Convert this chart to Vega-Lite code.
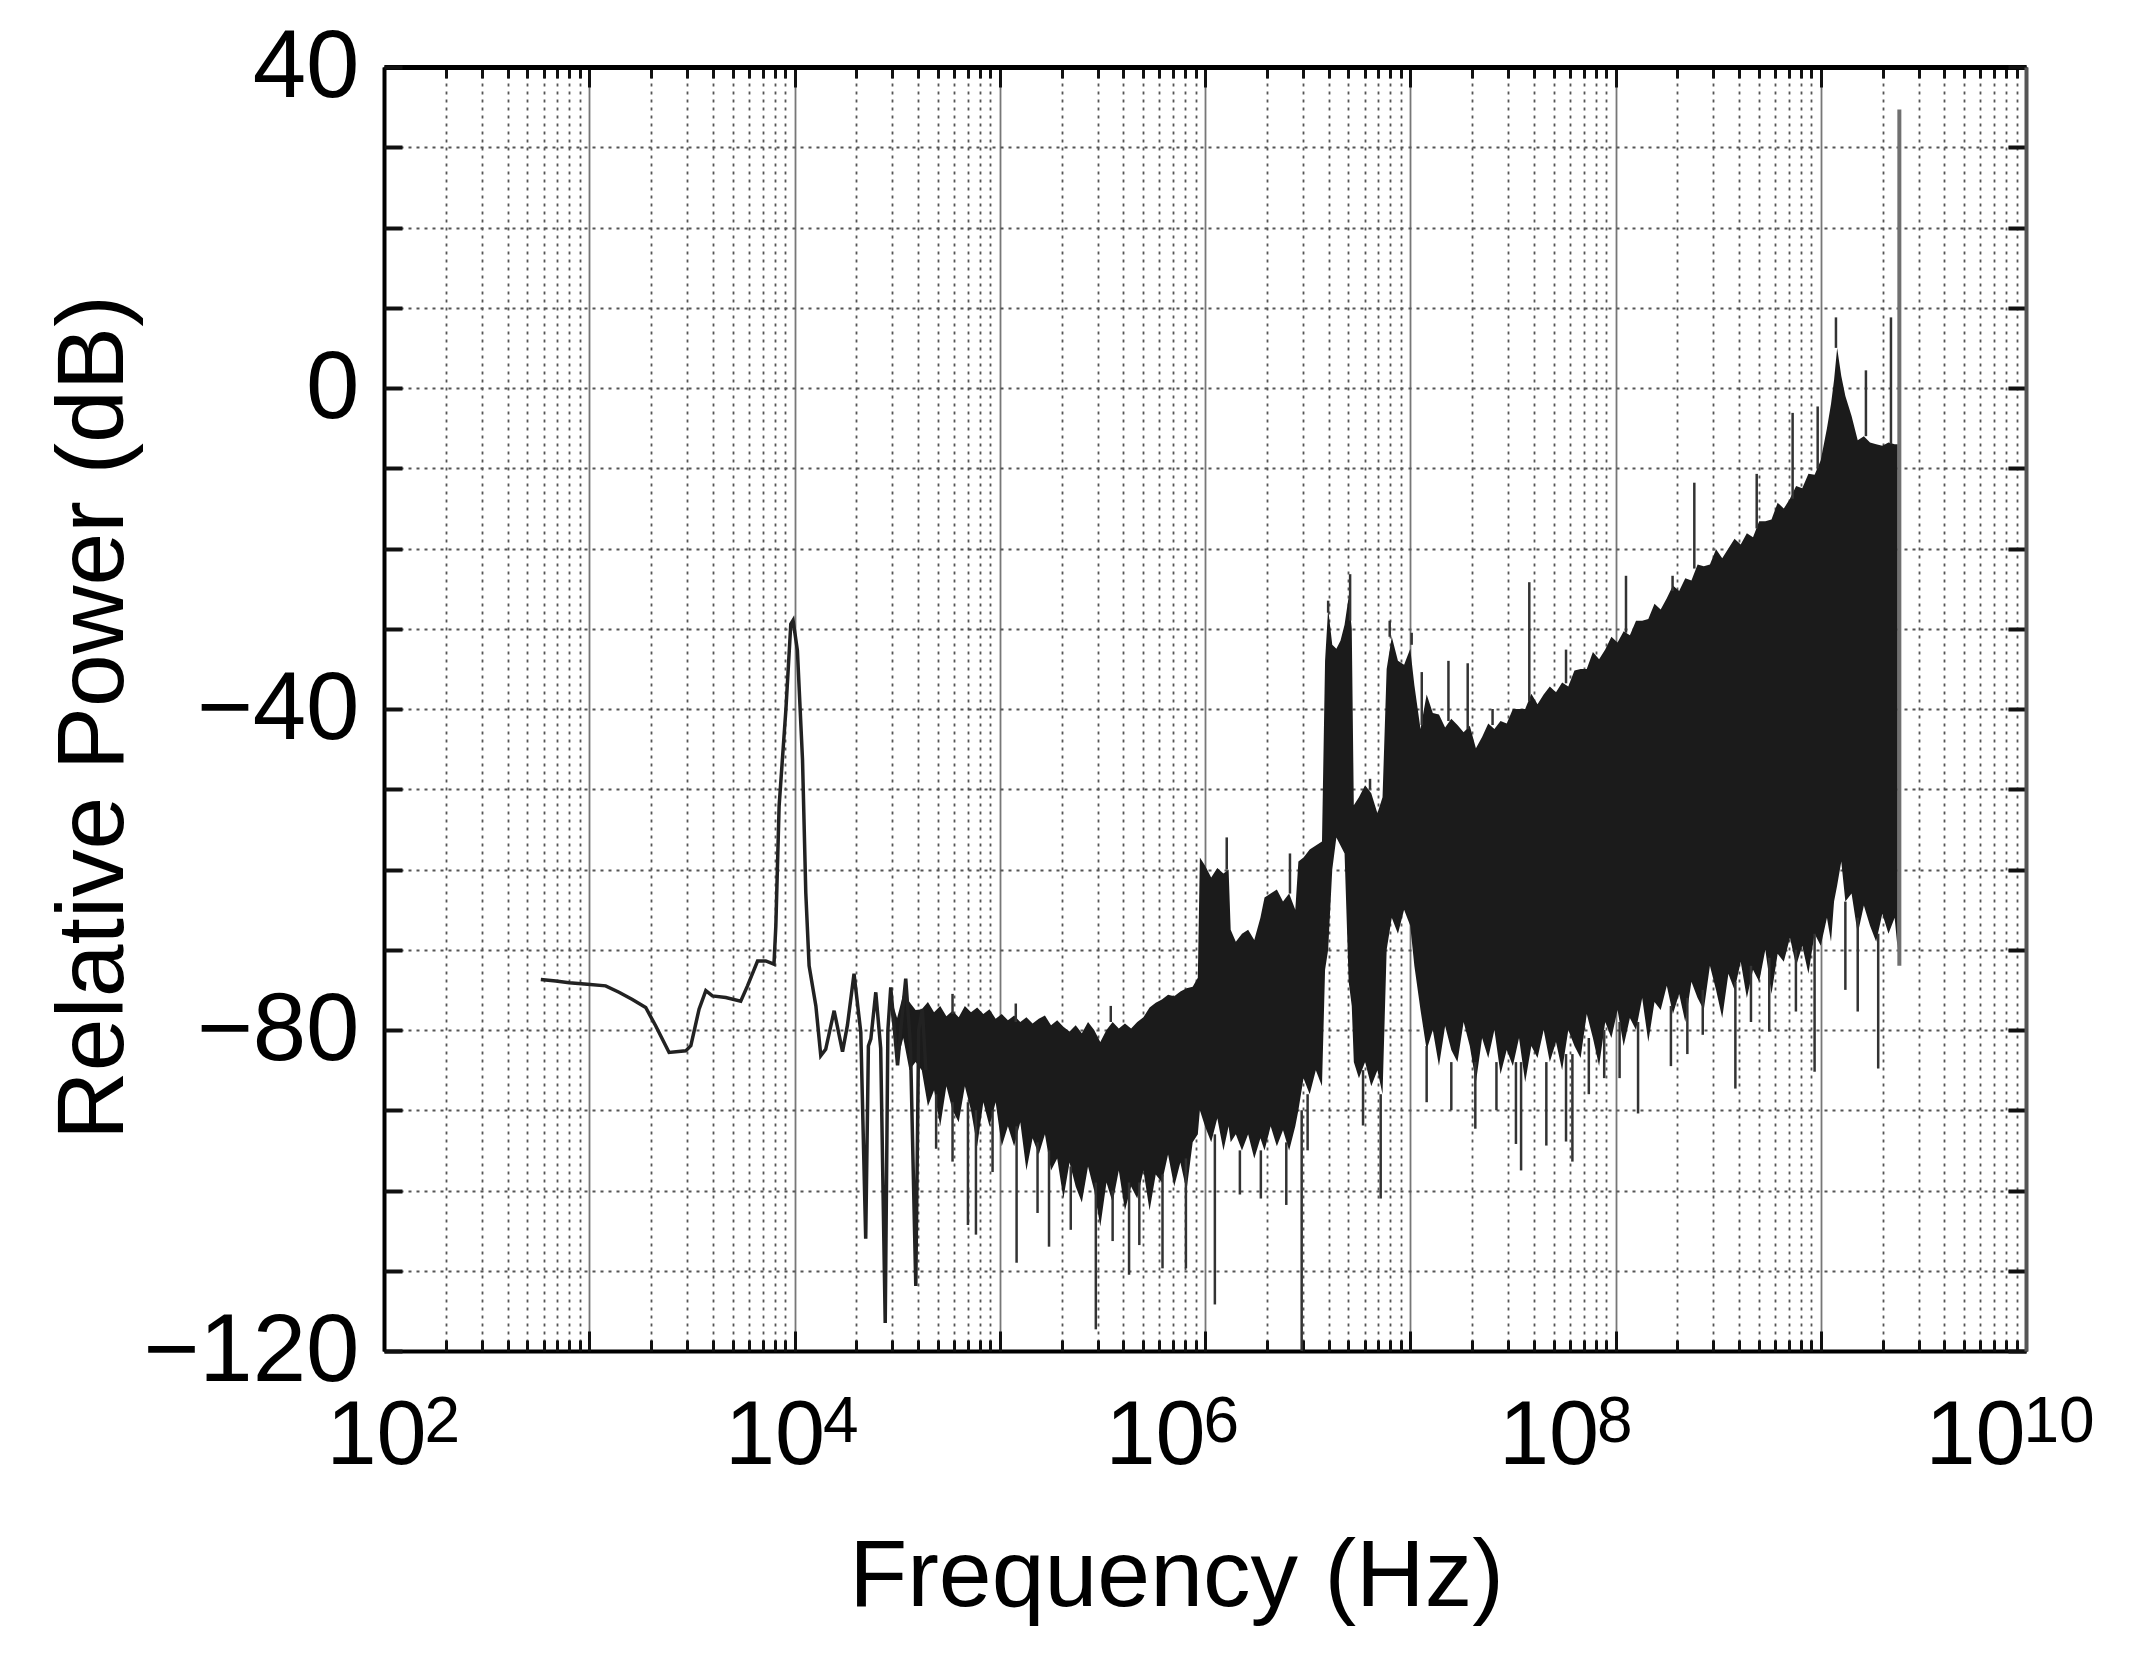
{
  "$schema": "https://vega.github.io/schema/vega-lite/v6.json",
  "width": 1642,
  "height": 1284,
  "autosize": {"type": "none"},
  "padding": {"left": 384, "top": 67, "right": 106, "bottom": 302},
  "background": "white",
  "config": {
    "view": {"stroke": null},
    "font": "Liberation Sans",
    "axis": {"labelFont": "Liberation Sans", "titleFont": "Liberation Sans", "labelColor": "#000", "titleColor": "#000", "titleFontWeight": "normal", "labelFlush": false, "labelOverlap": false, "labelLimit": 0}
  },
  "datasets": {
    "band": [
      {"f":2.951e4,"hi":-76.0,"lo":-78},{"f":3.162e4,"hi":-78.5,"lo":-84},{"f":3.388e4,"hi":-75.5,"lo":-81},{"f":3.631e4,"hi":-76.5,"lo":-85},{"f":3.890e4,"hi":-77.5,"lo":-84},
      {"f":4.169e4,"hi":-77.4,"lo":-85},{"f":4.467e4,"hi":-76.5,"lo":-89.5},{"f":4.786e4,"hi":-77.8,"lo":-87.5},{"f":5.129e4,"hi":-77.0,"lo":-92},{"f":5.495e4,"hi":-78.3,"lo":-87},{"f":5.888e4,"hi":-77.6,"lo":-90},{"f":6.310e4,"hi":-78.4,"lo":-91.5},{"f":6.761e4,"hi":-77.0,"lo":-87},{"f":7.244e4,"hi":-77.8,"lo":-90},{"f":7.762e4,"hi":-77.2,"lo":-94.5},{"f":8.318e4,"hi":-78.0,"lo":-89},{"f":8.913e4,"hi":-77.4,"lo":-92},{"f":9.550e4,"hi":-78.6,"lo":-89},
      {"f":1.023e5,"hi":-78.0,"lo":-94.5},{"f":1.096e5,"hi":-78.8,"lo":-92},{"f":1.175e5,"hi":-78.2,"lo":-94.5},{"f":1.259e5,"hi":-79.0,"lo":-91.5},{"f":1.349e5,"hi":-78.4,"lo":-97.5},{"f":1.445e5,"hi":-79.2,"lo":-93.5},{"f":1.549e5,"hi":-78.6,"lo":-95.5},{"f":1.660e5,"hi":-78.2,"lo":-93},{"f":1.778e5,"hi":-79.4,"lo":-97.5},{"f":1.905e5,"hi":-78.8,"lo":-96},{"f":2.042e5,"hi":-79.6,"lo":-101},{"f":2.188e5,"hi":-80.2,"lo":-96.5},{"f":2.344e5,"hi":-79.4,"lo":-99.5},{"f":2.512e5,"hi":-80.4,"lo":-101.5},{"f":2.692e5,"hi":-79.0,"lo":-97},{"f":2.884e5,"hi":-80.0,"lo":-100},{"f":3.090e5,"hi":-81.5,"lo":-104.5},{"f":3.311e5,"hi":-80.0,"lo":-99},{"f":3.548e5,"hi":-79.0,"lo":-101.5},{"f":3.802e5,"hi":-79.8,"lo":-97.5},{"f":4.074e5,"hi":-79.2,"lo":-102.5},{"f":4.365e5,"hi":-79.8,"lo":-99.5},{"f":4.677e5,"hi":-79.0,"lo":-101},{"f":5.012e5,"hi":-78.4,"lo":-97.5},{"f":5.370e5,"hi":-77.2,"lo":-102.5},{"f":5.754e5,"hi":-76.6,"lo":-98},{"f":6.166e5,"hi":-76.2,"lo":-99},{"f":6.607e5,"hi":-75.6,"lo":-95.5},{"f":7.079e5,"hi":-75.8,"lo":-99.5},{"f":7.586e5,"hi":-75.2,"lo":-96.5},{"f":8.128e5,"hi":-74.8,"lo":-100},{"f":8.710e5,"hi":-74.6,"lo":-94},{"f":9.226e5,"hi":-73.5,"lo":-93},
      {"f":9.441e5,"hi":-58.5,"lo":-90},{"f":1.000e6,"hi":-59.5,"lo":-92},{"f":1.072e6,"hi":-61.0,"lo":-94},{"f":1.148e6,"hi":-59.8,"lo":-91},{"f":1.230e6,"hi":-60.5,"lo":-95},{"f":1.303e6,"hi":-60.0,"lo":-92},{"f":1.334e6,"hi":-67.5,"lo":-94},{"f":1.413e6,"hi":-69.0,"lo":-93},{"f":1.514e6,"hi":-68.0,"lo":-95},{"f":1.622e6,"hi":-67.5,"lo":-93},{"f":1.738e6,"hi":-68.8,"lo":-96},{"f":1.862e6,"hi":-66.0,"lo":-93.5},{"f":1.950e6,"hi":-63.5,"lo":-95},{"f":2.089e6,"hi":-63.0,"lo":-92},{"f":2.239e6,"hi":-62.5,"lo":-94.5},{"f":2.399e6,"hi":-64.0,"lo":-92.5},{"f":2.570e6,"hi":-63.0,"lo":-95},{"f":2.754e6,"hi":-65.0,"lo":-92},{"f":2.851e6,"hi":-59.0,"lo":-90},{"f":3.020e6,"hi":-58.5,"lo":-86},{"f":3.236e6,"hi":-57.5,"lo":-88},{"f":3.467e6,"hi":-57.0,"lo":-85},{"f":3.715e6,"hi":-56.5,"lo":-87},
      {"f":3.846e6,"hi":-34.0,"lo":-72.5},{"f":3.981e6,"hi":-27.5,"lo":-70},{"f":4.169e6,"hi":-32.0,"lo":-60},{"f":4.365e6,"hi":-32.5,"lo":-56},{"f":4.571e6,"hi":-31.5,"lo":-57},{"f":4.786e6,"hi":-29.5,"lo":-58},{"f":5.012e6,"hi":-26.0,"lo":-74},{"f":5.188e6,"hi":-30.0,"lo":-77},
      {"f":5.309e6,"hi":-52.0,"lo":-84},{"f":5.623e6,"hi":-51.0,"lo":-86},{"f":6.026e6,"hi":-49.5,"lo":-84},{"f":6.457e6,"hi":-50.5,"lo":-87},{"f":6.918e6,"hi":-53.0,"lo":-85},{"f":7.328e6,"hi":-51.0,"lo":-88},
      {"f":7.674e6,"hi":-35.0,"lo":-70},{"f":8.128e6,"hi":-31.0,"lo":-66},{"f":8.710e6,"hi":-34.0,"lo":-68},{"f":9.333e6,"hi":-34.5,"lo":-65},{"f":1.000e7,"hi":-32.5,"lo":-67},{"f":1.047e7,"hi":-37.0,"lo":-72},
      {"f":1.122e7,"hi":-42.5,"lo":-77.5},{"f":1.202e7,"hi":-38.2,"lo":-82.5},{"f":1.288e7,"hi":-40.5,"lo":-80},{"f":1.380e7,"hi":-40.7,"lo":-84.5},{"f":1.479e7,"hi":-42.3,"lo":-79.5},{"f":1.585e7,"hi":-41.2,"lo":-82.5},{"f":1.698e7,"hi":-42.0,"lo":-84},{"f":1.820e7,"hi":-42.9,"lo":-79},{"f":1.950e7,"hi":-42.1,"lo":-82},{"f":2.089e7,"hi":-44.9,"lo":-86.5},{"f":2.239e7,"hi":-43.5,"lo":-81},{"f":2.399e7,"hi":-41.8,"lo":-83.5},{"f":2.570e7,"hi":-42.5,"lo":-80},{"f":2.754e7,"hi":-41.5,"lo":-85.5},{"f":2.951e7,"hi":-41.8,"lo":-82.5},{"f":3.162e7,"hi":-40.0,"lo":-84.5},{"f":3.388e7,"hi":-40.0,"lo":-81},{"f":3.631e7,"hi":-40.0,"lo":-86.5},{"f":3.890e7,"hi":-38.1,"lo":-82},{"f":4.169e7,"hi":-39.4,"lo":-83.5},{"f":4.467e7,"hi":-38.2,"lo":-80},{"f":4.786e7,"hi":-37.2,"lo":-84},{"f":5.129e7,"hi":-37.9,"lo":-81.5},{"f":5.495e7,"hi":-36.7,"lo":-85},{"f":5.888e7,"hi":-37.2,"lo":-80},{"f":6.310e7,"hi":-35.2,"lo":-82},{"f":6.761e7,"hi":-35.0,"lo":-83.5},{"f":7.244e7,"hi":-35.0,"lo":-78},{"f":7.762e7,"hi":-32.9,"lo":-81},{"f":8.318e7,"hi":-33.8,"lo":-84.5},{"f":8.913e7,"hi":-32.6,"lo":-79},{"f":9.550e7,"hi":-31.0,"lo":-81},
      {"f":1.023e8,"hi":-31.7,"lo":-77.5},{"f":1.096e8,"hi":-30.3,"lo":-82},{"f":1.175e8,"hi":-30.8,"lo":-78.5},{"f":1.259e8,"hi":-29.0,"lo":-80},{"f":1.349e8,"hi":-29.0,"lo":-76},{"f":1.445e8,"hi":-28.8,"lo":-81.5},{"f":1.549e8,"hi":-26.9,"lo":-76.5},{"f":1.660e8,"hi":-27.6,"lo":-77.5},{"f":1.778e8,"hi":-26.2,"lo":-74.5},{"f":1.905e8,"hi":-24.6,"lo":-78},{"f":2.042e8,"hi":-25.3,"lo":-75.5},{"f":2.188e8,"hi":-23.7,"lo":-79},{"f":2.344e8,"hi":-24.0,"lo":-74},{"f":2.512e8,"hi":-22.0,"lo":-76},{"f":2.692e8,"hi":-22.2,"lo":-77.5},{"f":2.884e8,"hi":-22.0,"lo":-72},{"f":3.090e8,"hi":-20.1,"lo":-75},{"f":3.311e8,"hi":-21.2,"lo":-78.5},{"f":3.548e8,"hi":-20.0,"lo":-73},{"f":3.802e8,"hi":-18.8,"lo":-75},{"f":4.074e8,"hi":-19.5,"lo":-71.5},{"f":4.365e8,"hi":-18.1,"lo":-76},{"f":4.677e8,"hi":-18.6,"lo":-72.5},{"f":5.012e8,"hi":-16.6,"lo":-74},{"f":5.370e8,"hi":-16.6,"lo":-70},{"f":5.754e8,"hi":-16.4,"lo":-75.5},{"f":6.166e8,"hi":-14.3,"lo":-70.5},{"f":6.607e8,"hi":-15.0,"lo":-71.5},{"f":7.079e8,"hi":-13.8,"lo":-68.5},{"f":7.586e8,"hi":-12.2,"lo":-72},{"f":8.128e8,"hi":-12.5,"lo":-69.5},{"f":8.710e8,"hi":-10.7,"lo":-73},{"f":9.333e8,"hi":-10.8,"lo":-68},
      {"f":1.000e9,"hi":-9.0,"lo":-69.5},{"f":1.072e9,"hi":-5.0,"lo":-66},{"f":1.122e9,"hi":-2.0,"lo":-69},{"f":1.161e9,"hi":1.0,"lo":-64},{"f":1.202e9,"hi":5.0,"lo":-62},{"f":1.259e9,"hi":1.5,"lo":-59},{"f":1.318e9,"hi":-1.0,"lo":-64},{"f":1.413e9,"hi":-3.5,"lo":-63},{"f":1.514e9,"hi":-6.5,"lo":-68},{"f":1.622e9,"hi":-6.0,"lo":-64.5},{"f":1.738e9,"hi":-6.8,"lo":-67},{"f":1.862e9,"hi":-7.0,"lo":-69},{"f":1.995e9,"hi":-7.2,"lo":-65.5},{"f":2.138e9,"hi":-6.8,"lo":-68},{"f":2.291e9,"hi":-7.0,"lo":-66},{"f":2.371e9,"hi":-7.0,"lo":-70}
    ],
    "line": [
      {"f":5.808e2,"db":-73.7},{"f":6.871e2,"db":-73.9},{"f":7.980e2,"db":-74.1},{"f":9.795e2,"db":-74.3},{"f":1.202e3,"db":-74.5},{"f":1.396e3,"db":-75.3},{"f":1.622e3,"db":-76.2},{"f":1.884e3,"db":-77.2},{"f":2.109e3,"db":-79.5},{"f":2.449e3,"db":-82.8},{"f":2.951e3,"db":-82.6},{"f":3.126e3,"db":-81.95},{"f":3.428e3,"db":-77.4},{"f":3.698e3,"db":-75.1},{"f":3.981e3,"db":-75.75},{"f":4.624e3,"db":-75.95},{"f":5.470e3,"db":-76.4},{"f":5.902e3,"db":-74.5},{"f":6.607e3,"db":-71.4},{"f":7.244e3,"db":-71.4},{"f":7.943e3,"db":-71.8},{"f":8.110e3,"db":-67.05},{"f":8.414e3,"db":-52.1},{"f":9.078e3,"db":-40.1},{"f":9.594e3,"db":-29.4},{"f":9.840e3,"db":-28.95},{"f":1.033e4,"db":-32.7},{"f":1.094e4,"db":-46.3},{"f":1.135e4,"db":-62.9},{"f":1.178e4,"db":-72},{"f":1.271e4,"db":-77},{"f":1.343e4,"db":-83.2},{"f":1.419e4,"db":-82.4},{"f":1.560e4,"db":-77.6},{"f":1.714e4,"db":-82.7},{"f":1.811e4,"db":-79.4},{"f":1.950e4,"db":-73},{"f":2.104e4,"db":-80.3},{"f":2.223e4,"db":-106},{"f":2.291e4,"db":-82},{"f":2.355e4,"db":-81.1},{"f":2.489e4,"db":-75.3},{"f":2.630e4,"db":-82.3},{"f":2.767e4,"db":-116.5},{"f":2.851e4,"db":-80},{"f":2.944e4,"db":-74.7},{"f":3.177e4,"db":-84.4},{"f":3.350e4,"db":-78},{"f":3.483e4,"db":-73.6},{"f":3.673e4,"db":-82},{"f":3.899e4,"db":-111.9},{"f":4.027e4,"db":-80},{"f":4.198e4,"db":-77.4},{"f":4.365e4,"db":-85}
    ],
    "spikes": [
      {"f":5.888e4,"low":-78,"high":-75.5},{"f":1.197e5,"low":-79,"high":-76.7},{"f":3.475e5,"low":-79,"high":-77},{"f":1.276e6,"low":-60,"high":-56},{"f":2.594e6,"low":-63,"high":-58},{"f":3.981e6,"low":-28,"high":-26.5},{"f":5.093e6,"low":-29,"high":-23.2},{"f":6.368e6,"low":-50,"high":-48.7},{"f":7.943e6,"low":-31,"high":-29},{"f":1.016e7,"low":-32,"high":-30.5},{"f":1.138e7,"low":-42,"high":-35.4},{"f":1.535e7,"low":-41.5,"high":-34},{"f":1.905e7,"low":-42.5,"high":-34.3},{"f":2.518e7,"low":-42,"high":-40},{"f":3.802e7,"low":-39,"high":-24.2},{"f":5.741e7,"low":-36.8,"high":-32.6},{"f":1.125e8,"low":-30.5,"high":-23.4},{"f":1.897e8,"low":-25.3,"high":-23.4},{"f":2.421e8,"low":-22.5,"high":-11.8},{"f":4.875e8,"low":-17.5,"high":-10.7},{"f":7.295e8,"low":-13.8,"high":-3.1},{"f":9.661e8,"low":-10,"high":-2.3},{"f":1.186e9,"low":5,"high":8.8},{"f":1.660e9,"low":-6,"high":2.2},{"f":2.198e9,"low":-7,"high":8.8},
      {"f":4.898e4,"low":-94.8,"high":-88},{"f":5.888e4,"low":-96.4,"high":-89},{"f":6.998e4,"low":-104.3,"high":-89},{"f":7.656e4,"low":-105.5,"high":-90},{"f":9.226e4,"low":-97.7,"high":-90},{"f":1.208e5,"low":-109,"high":-92},{"f":1.528e5,"low":-102.8,"high":-94},{"f":1.738e5,"low":-107,"high":-95},{"f":2.218e5,"low":-104.9,"high":-97},{"f":2.938e5,"low":-117.3,"high":-99},{"f":3.548e5,"low":-106.3,"high":-100},{"f":4.266e5,"low":-110.5,"high":-99},{"f":4.786e5,"low":-106.8,"high":-99},{"f":6.209e5,"low":-109.7,"high":-98},{"f":8.072e5,"low":-109.7,"high":-96},{"f":1.117e6,"low":-114.2,"high":-93},{"f":1.479e6,"low":-100.5,"high":-95},{"f":1.871e6,"low":-101,"high":-95},{"f":2.489e6,"low":-101.8,"high":-94},{"f":2.958e6,"low":-120,"high":-90},{"f":3.162e6,"low":-95,"high":-88},{"f":5.888e6,"low":-91.9,"high":-85},{"f":7.178e6,"low":-101,"high":-88},{"f":1.202e7,"low":-89,"high":-82},{"f":1.585e7,"low":-90,"high":-84},{"f":2.075e7,"low":-92.3,"high":-84},{"f":2.630e7,"low":-90,"high":-84},{"f":3.273e7,"low":-94.2,"high":-84},{"f":3.467e7,"low":-97.5,"high":-84},{"f":4.603e7,"low":-94.4,"high":-84},{"f":5.741e7,"low":-93.9,"high":-83},{"f":6.166e7,"low":-96.4,"high":-83},{"f":7.413e7,"low":-88,"high":-81},{"f":8.810e7,"low":-86,"high":-80},{"f":1.047e8,"low":-86,"high":-79},{"f":1.288e8,"low":-90.4,"high":-79},{"f":1.862e8,"low":-84.5,"high":-77},{"f":2.239e8,"low":-83,"high":-76},{"f":2.661e8,"low":-80.6,"high":-75},{"f":3.837e8,"low":-87.3,"high":-74},{"f":4.571e8,"low":-79,"high":-72},{"f":5.610e8,"low":-80.2,"high":-71},{"f":7.568e8,"low":-77.7,"high":-70},{"f":9.333e8,"low":-85.2,"high":-68},{"f":1.318e9,"low":-75,"high":-64},{"f":1.514e9,"low":-77.7,"high":-66},{"f":1.905e9,"low":-84.8,"high":-68}
    ],
    "carrier": [
      {"f":2.415e9,"low":-72,"high":34.7}
    ]
  },
  "layer": [
    {
      "data": {"name": "band"},
      "mark": {"type": "area", "color": "#1b1b1b", "opacity": 1},
      "encoding": {
        "x": {"field": "f", "type": "quantitative", "scale": {"type": "log", "domain": [100, 1e10], "nice": false},
          "axis": {"orient": "bottom", "title": "Frequency (Hz)", "titleFontSize": 95, "titleX": 792, "titleY": 254, "titleBaseline": "alphabetic", "titleAlign": "center", "titleAnchor": null,
            "values": [100,200,300,400,500,600,700,800,900,1e3,2e3,3e3,4e3,5e3,6e3,7e3,8e3,9e3,1e4,2e4,3e4,4e4,5e4,6e4,7e4,8e4,9e4,1e5,2e5,3e5,4e5,5e5,6e5,7e5,8e5,9e5,1e6,2e6,3e6,4e6,5e6,6e6,7e6,8e6,9e6,1e7,2e7,3e7,4e7,5e7,6e7,7e7,8e7,9e7,1e8,2e8,3e8,4e8,5e8,6e8,7e8,8e8,9e8,1e9,2e9,3e9,4e9,5e9,6e9,7e9,8e9,9e9,1e10],
            "labelExpr": "indexof([100,10000,1000000,100000000,10000000000], datum.value) >= 0 ? '10' : ''",
            "labelFontSize": 90, "labelPadding": 41, "labelBaseline": "top", "labelAlign": "right",
            "labelOffset": {"condition": [{"test": "datum.value == 100", "value": 42}, {"test": "datum.value == 10000", "value": 30}, {"test": "datum.value == 1000000", "value": 0}, {"test": "datum.value == 100000000", "value": -17}], "value": -1},
            "ticks": false, "domain": true, "domainColor": "#000", "domainWidth": 4,
            "grid": true,
            "gridDash": {"condition": {"test": "abs(log(datum.value)/LN10 - round(log(datum.value)/LN10)) < 1e-6", "value": []}, "value": [3, 5]},
            "gridColor": {"condition": {"test": "abs(log(datum.value)/LN10 - round(log(datum.value)/LN10)) < 1e-6", "value": "#777777"}, "value": "#555555"},
            "gridWidth": 1.8
          }},
        "y": {"field": "hi", "type": "quantitative", "scale": {"domain": [-120, 40], "nice": false},
          "axis": {"orient": "left", "title": "Relative Power (dB)", "titleFontSize": 95, "titleX": -262, "titleY": 650, "titleBaseline": "alphabetic", "titleAlign": "center", "titleAngle": -90, "titleAnchor": null,
            "values": [-120,-110,-100,-90,-80,-70,-60,-50,-40,-30,-20,-10,0,10,20,30,40],
            "labelExpr": "datum.value % 40 == 0 ? datum.label : ''",
            "labelFontSize": 96, "labelPadding": 25, "labelAlign": "right", "labelBaseline": "middle",
            "ticks": false, "domain": true, "domainColor": "#000", "domainWidth": 4,
            "grid": true, "gridDash": [3, 5], "gridColor": "#555555", "gridWidth": 1.8}},
        "y2": {"field": "lo"}
      }
    },
    {
      "data": {"name": "spikes"},
      "mark": {"type": "rule", "color": "#333333", "strokeWidth": 2.5},
      "encoding": {
        "x": {"field": "f", "type": "quantitative", "scale": {"type": "log", "domain": [100, 1e10], "nice": false},
          "axis": {"orient": "bottom", "title": null, "labels": false, "grid": false, "domain": false,
            "values": [100,200,300,400,500,600,700,800,900,1e3,2e3,3e3,4e3,5e3,6e3,7e3,8e3,9e3,1e4,2e4,3e4,4e4,5e4,6e4,7e4,8e4,9e4,1e5,2e5,3e5,4e5,5e5,6e5,7e5,8e5,9e5,1e6,2e6,3e6,4e6,5e6,6e6,7e6,8e6,9e6,1e7,2e7,3e7,4e7,5e7,6e7,7e7,8e7,9e7,1e8,2e8,3e8,4e8,5e8,6e8,7e8,8e8,9e8,1e9,2e9,3e9,4e9,5e9,6e9,7e9,8e9,9e9,1e10],
            "ticks": true, "tickColor": "#111", "tickWidth": 3,
            "tickSize": {"condition": {"test": "abs(log(datum.value)/LN10 - round(log(datum.value)/LN10)) < 1e-6", "value": -20}, "value": -11}}},
        "y": {"field": "low", "type": "quantitative", "scale": {"domain": [-120, 40], "nice": false},
          "axis": {"orient": "left", "title": null, "labels": false, "grid": false, "domain": false,
            "values": [-120,-110,-100,-90,-80,-70,-60,-50,-40,-30,-20,-10,0,10,20,30,40],
            "ticks": true, "tickColor": "#111", "tickWidth": 4, "tickSize": -18}},
        "y2": {"field": "high"}
      }
    },
    {
      "data": {"name": "line"},
      "mark": {"type": "line", "color": "#222222", "strokeWidth": 3.5},
      "encoding": {
        "x": {"field": "f", "type": "quantitative", "scale": {"type": "log", "domain": [100, 1e10], "nice": false},
          "axis": {"orient": "top", "title": null, "labels": false, "grid": false, "domain": true, "domainColor": "#000", "domainWidth": 5,
            "values": [100,200,300,400,500,600,700,800,900,1e3,2e3,3e3,4e3,5e3,6e3,7e3,8e3,9e3,1e4,2e4,3e4,4e4,5e4,6e4,7e4,8e4,9e4,1e5,2e5,3e5,4e5,5e5,6e5,7e5,8e5,9e5,1e6,2e6,3e6,4e6,5e6,6e6,7e6,8e6,9e6,1e7,2e7,3e7,4e7,5e7,6e7,7e7,8e7,9e7,1e8,2e8,3e8,4e8,5e8,6e8,7e8,8e8,9e8,1e9,2e9,3e9,4e9,5e9,6e9,7e9,8e9,9e9,1e10],
            "ticks": true, "tickColor": "#111", "tickWidth": 3,
            "tickSize": {"condition": {"test": "abs(log(datum.value)/LN10 - round(log(datum.value)/LN10)) < 1e-6", "value": -20}, "value": -11}}},
        "y": {"field": "db", "type": "quantitative", "scale": {"domain": [-120, 40], "nice": false},
          "axis": {"orient": "right", "title": null, "labels": false, "grid": false, "domain": true, "domainColor": "#555", "domainWidth": 4,
            "values": [-120,-110,-100,-90,-80,-70,-60,-50,-40,-30,-20,-10,0,10,20,30,40],
            "ticks": true, "tickColor": "#111", "tickWidth": 4, "tickSize": -18}}
      }
    },
    {
      "data": {"name": "carrier"},
      "mark": {"type": "rule", "color": "#707070", "strokeWidth": 4},
      "encoding": {
        "x": {"field": "f", "type": "quantitative", "scale": {"type": "log", "domain": [100, 1e10], "nice": false},
          "axis": {"orient": "bottom", "title": null, "grid": false, "domain": false, "ticks": false,
            "values": [100, 10000, 1000000, 100000000, 10000000000],
            "labelExpr": "format(log(datum.value)/LN10, '.0f')",
            "labelFontSize": 64, "labelPadding": 39, "labelBaseline": "top", "labelAlign": "left",
            "labelOffset": {"condition": [{"test": "datum.value == 100", "value": 40}, {"test": "datum.value == 10000", "value": 28}, {"test": "datum.value == 1000000", "value": -2}, {"test": "datum.value == 100000000", "value": -19}], "value": -3}}},
        "y": {"field": "low", "type": "quantitative", "scale": {"domain": [-120, 40], "nice": false}, "axis": null},
        "y2": {"field": "high"}
      }
    }
  ],
  "resolve": {"axis": {"x": "independent", "y": "independent"}}
}
